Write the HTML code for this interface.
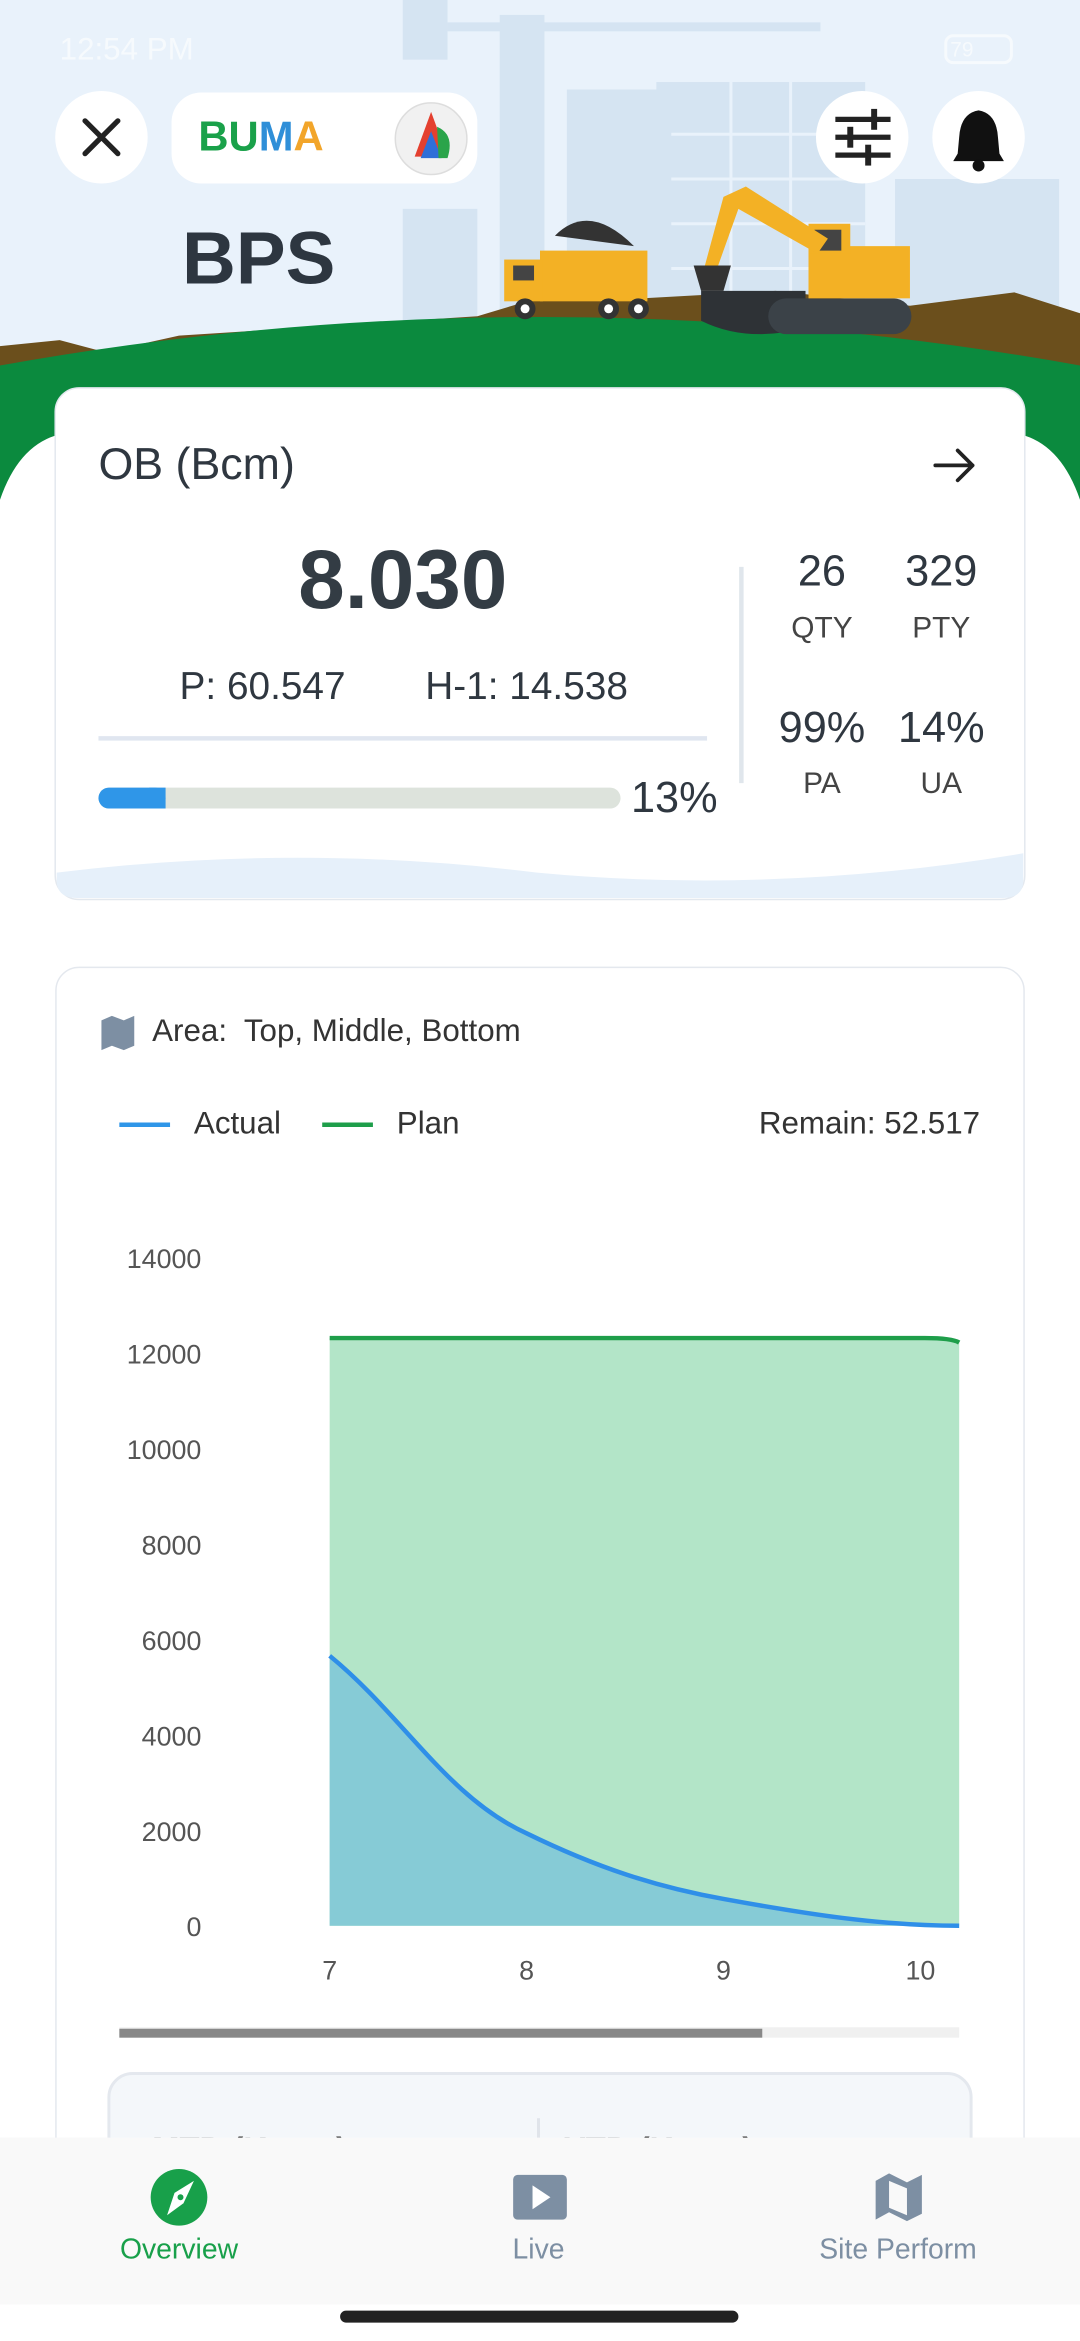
<!DOCTYPE html>
<html><head><meta charset="utf-8"><style>
html,body{margin:0;padding:0;background:#fff;}
body{width:1080px;height:2340px;overflow:hidden;position:relative;font-family:"Liberation Sans",sans-serif;}
#w{position:absolute;left:0;top:0;width:724px;height:1569px;transform:scale(1.49171);transform-origin:0 0;overflow:hidden;background:#fff;}
.a{position:absolute;}
.t{position:absolute;white-space:nowrap;color:#2f3740;}
.c{transform:translate(-50%,-50%);}
.ym{transform:translateY(-50%);}
</style></head><body><div id="w">
<svg class="a" style="left:0;top:0" width="724" height="660" viewBox="0 0 724 660">
 <rect width="724" height="660" fill="#fff"/>
 <rect width="724" height="250" fill="#e9f2fb"/>
 <g fill="#d5e4f2">
  <rect x="270" y="0" width="30" height="40"/><rect x="335" y="10" width="30" height="200"/>
  <rect x="270" y="140" width="50" height="80"/><rect x="380" y="60" width="70" height="160"/>
  <rect x="440" y="55" width="140" height="165"/><rect x="600" y="120" width="110" height="100"/>
  <rect x="300" y="15" width="250" height="6"/>
 </g>
 <g stroke="#e9f2fb" stroke-width="2">
  <line x1="450" y1="90" x2="580" y2="90"/><line x1="450" y1="120" x2="580" y2="120"/><line x1="450" y1="150" x2="580" y2="150"/><line x1="450" y1="180" x2="580" y2="180"/>
  <line x1="490" y1="55" x2="490" y2="220"/><line x1="530" y1="55" x2="530" y2="220"/>
 </g>
 <path d="M0 232 L40 228 L70 236 L120 225 L320 212 L360 200 L430 200 L520 195 L610 205 L680 196 L724 210 L724 250 L0 250Z" fill="#6b4f1c"/>
 <path d="M0 245 Q362 180 724 245 L724 335 Q712 300 687 292 L37 292 Q12 300 0 335Z" fill="#0b8a3e"/>
 <!-- truck -->
 <path d="M372 158 Q395 135 425 165 Z" fill="#333"/>
 <rect x="362" y="168" width="72" height="34" fill="#f3b125"/>
 <rect x="338" y="174" width="26" height="28" fill="#f3b125"/><rect x="344" y="178" width="14" height="10" fill="#444"/>
 <g fill="#333"><circle cx="352" cy="207" r="7"/><circle cx="408" cy="207" r="7"/><circle cx="428" cy="207" r="7"/></g>
 <g fill="#fff"><circle cx="352" cy="207" r="3"/><circle cx="408" cy="207" r="3"/><circle cx="428" cy="207" r="3"/></g>
 <!-- excavator -->
 <path d="M470 195 L540 195 L540 220 Q500 230 470 215Z" fill="#2e3236"/>
 <rect x="515" y="200" width="96" height="24" rx="12" fill="#3b4248"/>
 <rect x="542" y="165" width="68" height="35" fill="#f3b125"/>
 <rect x="542" y="150" width="28" height="20" fill="#f3b125"/><rect x="546" y="154" width="18" height="14" fill="#444"/>
 <path d="M555 160 L500 125 L485 132 L472 180 L480 182 L495 140 L548 170Z" fill="#f3b125"/>
 <path d="M465 178 L490 178 L485 195 L470 195Z" fill="#333"/>
 <circle cx="68" cy="92" r="31" fill="#fff"/>
 <path d="M57 81 L79 103 M79 81 L57 103" stroke="#222" stroke-width="3.5" stroke-linecap="round"/>
 <rect x="115" y="62" width="205" height="61" rx="20" fill="#fff"/>
 <text x="133" y="101" font-family="Liberation Sans" font-weight="bold" font-size="28" fill="#1aa14a">BU<tspan fill="#2f8fd8">M</tspan><tspan fill="#f2a52a">A</tspan></text>
 <circle cx="289" cy="93" r="24" fill="#f1f1f1" stroke="#ddd"/>
 <path d="M289 75 L278 105 L300 105Z" fill="#e4402f"/><path d="M289 88 L282 106 L296 106Z" fill="#2f6fd8"/><path d="M293 85 Q305 90 300 106 L294 106Z" fill="#2aa44a"/>
 <circle cx="578" cy="92" r="31" fill="#fff"/>
 <g stroke="#222" stroke-width="3.5"><line x1="560" y1="80" x2="597" y2="80"/><line x1="560" y1="92" x2="597" y2="92"/><line x1="560" y1="104" x2="597" y2="104"/></g>
 <g stroke="#222" stroke-width="4"><line x1="586" y1="73" x2="586" y2="87"/><line x1="570" y1="85" x2="570" y2="99"/><line x1="582" y1="97" x2="582" y2="111"/></g>
 <circle cx="656" cy="92" r="31" fill="#fff"/>
 <path d="M656 74 Q644 76 643 92 L642 103 L639 108 L673 108 L670 103 L669 92 Q668 76 656 74Z" fill="#111"/><circle cx="656" cy="111" r="4" fill="#111"/>
 <text x="40" y="40" font-size="21" fill="#fff" fill-opacity="0.6" font-family="Liberation Sans">12:54 PM</text>
 <text x="637" y="38" font-size="14" fill="#fff" fill-opacity="0.6" font-family="Liberation Sans">79</text>
 <rect x="634" y="24" width="44" height="18" rx="5" fill="none" stroke="#fff" stroke-opacity="0.6" stroke-width="2"/>
 <text x="122" y="190" font-family="Liberation Sans" font-weight="bold" font-size="50" fill="#2d3640">BPS</text>
 <!-- card 1 -->
 <rect x="37" y="260" width="650" height="343" rx="16" fill="#fff" stroke="#e3e8ee"/>
 <path d="M38 585 Q200 565 360 585 Q520 600 686 572 L686 590 Q686 602 672 602 L52 602 Q38 602 38 590Z" fill="#e6f0fa"/>
 <path d="M627 312 L652 312 M642 302 L652 312 L642 322" stroke="#222" stroke-width="2.5" fill="none" stroke-linecap="round" stroke-linejoin="round"/>
 <line x1="66" y1="495" x2="474" y2="495" stroke="#e0e6f0" stroke-width="3"/>
 <rect x="66" y="528" width="350" height="14" rx="7" fill="#dde3dc"/>
 <rect x="66" y="528" width="45" height="14" rx="7" fill="#2f96e8"/><rect x="100" y="528" width="11" height="14" fill="#2f96e8"/>
 <line x1="497" y1="380" x2="497" y2="525" stroke="#e0e6ec" stroke-width="3"/>
</svg>
<div class="t ym" style="left:66px;top:312px;font-size:30px;">OB (Bcm)</div>
<div class="t c" style="left:270px;top:388px;font-size:56px;font-weight:bold;color:#333c44;">8.030</div>
<div class="t c" style="left:176px;top:460px;font-size:26px;">P: 60.547</div>
<div class="t c" style="left:353px;top:460px;font-size:26px;">H-1: 14.538</div>
<div class="t ym" style="left:423px;top:536px;font-size:29px;">13%</div>
<div class="t c" style="left:551px;top:384px;font-size:29px;">26</div>
<div class="t c" style="left:551px;top:422px;font-size:20px;color:#444;">QTY</div>
<div class="t c" style="left:631px;top:384px;font-size:29px;">329</div>
<div class="t c" style="left:631px;top:422px;font-size:20px;color:#444;">PTY</div>
<div class="t c" style="left:551px;top:489px;font-size:29px;">99%</div>
<div class="t c" style="left:551px;top:526px;font-size:20px;color:#444;">PA</div>
<div class="t c" style="left:631px;top:489px;font-size:29px;">14%</div>
<div class="t c" style="left:631px;top:526px;font-size:20px;color:#444;">UA</div>
<!-- card 2 -->
<div class="a" style="left:37px;top:648px;width:648px;height:820px;border:1px solid #e4e8ee;border-radius:16px;background:#fff;"></div>
<svg class="a" style="left:0;top:640px" width="724" height="800" viewBox="0 640 724 800">
 <path d="M68 684 L75 681 L83 684 L90 681 L90 701 L83 704 L75 701 L68 704Z" fill="#7d8fa3"/>
 <line x1="80" y1="754" x2="114" y2="754" stroke="#2f96e8" stroke-width="3"/>
 <line x1="216" y1="754" x2="250" y2="754" stroke="#1e9e4a" stroke-width="3"/>
 <g font-family="Liberation Sans" font-size="18" fill="#555" text-anchor="end">
  <text x="135" y="850">14000</text><text x="135" y="914">12000</text><text x="135" y="978">10000</text><text x="135" y="1042">8000</text><text x="135" y="1106">6000</text><text x="135" y="1170">4000</text><text x="135" y="1234">2000</text><text x="135" y="1298">0</text>
 </g>
 <g font-family="Liberation Sans" font-size="18" fill="#555" text-anchor="middle">
  <text x="221" y="1327">7</text><text x="353" y="1327">8</text><text x="485" y="1327">9</text><text x="617" y="1327">10</text>
 </g>
 <path d="M221 897 L620 897 Q638 897 643 900 L643 1291 L221 1291Z" fill="#b3e5c8"/>
 <path d="M221 897 L620 897 Q638 897 643 900" stroke="#1e9e4a" stroke-width="3" fill="none"/>
 <path d="M221 1110 C270 1150 300 1205 353 1229 C400 1252 440 1265 485 1273 C540 1283 590 1291 643 1291 L643 1291 L221 1291Z" fill="#86cbd6"/>
 <path d="M221 1110 C270 1150 300 1205 353 1229 C400 1252 440 1265 485 1273 C540 1283 590 1291 643 1291" stroke="#2f8fe8" stroke-width="3" fill="none"/>
 <rect x="80" y="1359" width="563" height="7" fill="#f0f0f0"/>
 <rect x="80" y="1360" width="431" height="6" fill="#888"/>
 <rect x="73" y="1390" width="578" height="70" rx="16" fill="#f4f7fa" stroke="#e4e8ee" stroke-width="2"/>
 <line x1="361" y1="1420" x2="361" y2="1450" stroke="#e0e4ea" stroke-width="2"/>
 <text x="102" y="1448" font-family="Liberation Sans" font-size="22" font-weight="bold" fill="#333">MTD (Ktons)</text>
 <text x="378" y="1448" font-family="Liberation Sans" font-size="22" font-weight="bold" fill="#333">YTD (Ktons)</text>
</svg>
<div class="t ym" style="left:102px;top:692px;font-size:21px;color:#333;">Area:&nbsp; Top, Middle, Bottom</div>
<div class="t ym" style="left:130px;top:754px;font-size:21px;color:#333;">Actual</div>
<div class="t ym" style="left:266px;top:754px;font-size:21px;color:#333;">Plan</div>
<div class="t ym" style="right:67px;top:754px;font-size:21px;color:#333;">Remain: 52.517</div>
<!-- nav -->
<div class="a" style="left:0;top:1433px;width:724px;height:112px;background:#f9f9f9;"></div>
<div class="a" style="left:0;top:1545px;width:724px;height:30px;background:#fff;"></div>
<svg class="a" style="left:0;top:1433px" width="724" height="136" viewBox="0 1433 724 136">
 <circle cx="120" cy="1473" r="19" fill="#18a04a"/>
 <path d="M130 1462 L123 1477 L112 1485 L117 1470Z" fill="#fff"/><circle cx="121" cy="1473" r="2" fill="#18a04a"/>
 <rect x="344" y="1458" width="36" height="30" rx="3" fill="#7d8fa3"/><path d="M357 1465 L369 1473 L357 1481Z" fill="#fff"/>
 <path d="M587 1462 L596 1457 L608 1463 L618 1458 L618 1484 L608 1489 L596 1483 L587 1488Z" fill="#7d8fa3"/>
 <path d="M596 1462 L596 1480 L608 1485 L608 1467Z" fill="#f9f9f9"/>
 <rect x="228" y="1549" width="267" height="8" rx="4" fill="#222"/>
</svg>
<div class="t c" style="left:120px;top:1509px;font-size:19px;color:#18a04a;">Overview</div>
<div class="t c" style="left:361px;top:1509px;font-size:19px;color:#7d8fa3;">Live</div>
<div class="t c" style="left:602px;top:1509px;font-size:19px;color:#7d8fa3;">Site Perform</div>
</div></body></html>
